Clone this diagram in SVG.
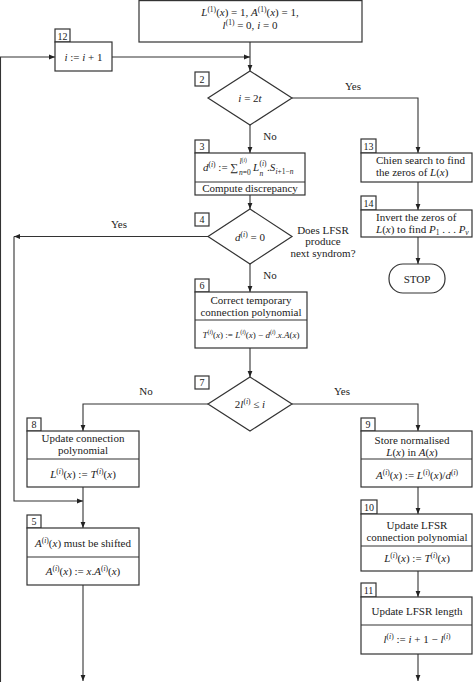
<svg xmlns="http://www.w3.org/2000/svg" width="474" height="682" viewBox="0 0 474 682">
<defs>
<marker id="ah" markerWidth="6" markerHeight="6" refX="6" refY="3" orient="auto" markerUnits="userSpaceOnUse"><path d="M0,0.6 L6,3 L0,5.4 z" fill="#222"/></marker>
</defs>
<style>
.b{fill:#fff;stroke:#333;stroke-width:1.2}
.d{fill:none;stroke:#333;stroke-width:1.2}
.c{fill:none;stroke:#333;stroke-width:1.1}
.t{font-family:"Liberation Serif","DejaVu Serif",serif;font-size:11px;fill:#222}
.m{text-anchor:middle}
.i{font-style:italic}
.s{font-size:7.5px}
.f{font-size:9px}
.n{font-family:"Liberation Serif","DejaVu Serif",serif;font-size:10px;fill:#222;text-anchor:middle}
</style>
<rect x="0" y="0" width="474" height="682" fill="#fff"/>

<g id="connectors">
<path class="c" d="M0.5,682 L0.5,57 L55,57" marker-end="url(#ah)"/>
<path class="c" d="M250,42 L250,71" marker-end="url(#ah)"/>
<path class="c" d="M112,57 L250,57" marker-end="url(#ah)"/>
<path class="c" d="M292,98 L418,98 L418,153" marker-end="url(#ah)"/>
<path class="c" d="M250,125 L250,153" marker-end="url(#ah)"/>
<path class="c" d="M418,182 L418,210" marker-end="url(#ah)"/>
<path class="c" d="M418,237 L418,264" marker-end="url(#ah)"/>
<path class="c" d="M250,195 L250,209" marker-end="url(#ah)"/>
<path class="c" d="M208,236.5 L14,236.5" marker-end="url(#ah)"/>
<path class="c" d="M14,236.5 L14,501 L83,501" marker-end="url(#ah)"/>
<path class="c" d="M250,264 L250,292" marker-end="url(#ah)"/>
<path class="c" d="M250,348 L250,377" marker-end="url(#ah)"/>
<path class="c" d="M292,404 L418,404 L418,431" marker-end="url(#ah)"/>
<path class="c" d="M208,404 L83,404 L83,431" marker-end="url(#ah)"/>
<path class="c" d="M83,487 L83,528" marker-end="url(#ah)"/>
<path class="c" d="M418,487 L418,514" marker-end="url(#ah)"/>
<path class="c" d="M418,571 L418,597" marker-end="url(#ah)"/>
<path class="c" d="M418,654 L418,681" marker-end="url(#ah)"/>
<path class="c" d="M83,585 L83,681" marker-end="url(#ah)"/>
<text class="t m" x="353" y="90">Yes</text>
<text class="t m" x="270" y="140">No</text>
<text class="t m" x="119" y="228">Yes</text>
<text class="t m" x="270" y="279">No</text>
<text class="t m" x="342" y="395">Yes</text>
<text class="t m" x="146" y="395">No</text>
</g>

<g id="n1">
<rect class="b" x="139" y="0.6" width="223" height="41.4"/>
<text class="t m" x="250" y="16"><tspan class="i">L</tspan><tspan class="s" dy="-4">(1)</tspan><tspan dy="4">(</tspan><tspan class="i">x</tspan>) = 1,  <tspan class="i">A</tspan><tspan class="s" dy="-4">(1)</tspan><tspan dy="4">(</tspan><tspan class="i">x</tspan>) = 1,</text>
<text class="t m" x="250" y="29"><tspan class="i">l</tspan><tspan class="s" dy="-4">(1)</tspan><tspan dy="4"> = 0,  </tspan><tspan class="i">i</tspan> = 0</text>
</g>

<g id="n12">
<rect class="b" x="55" y="29" width="15" height="13"/>
<text class="n" x="62.5" y="39.5">12</text>
<rect class="b" x="55" y="42" width="57" height="29"/>
<text class="t m" x="83.5" y="60.5"><tspan class="i">i</tspan> := <tspan class="i">i</tspan> + 1</text>
</g>

<g id="n2">
<rect class="b" x="195" y="72" width="14" height="14"/>
<text class="n" x="202" y="82.5">2</text>
<polygon class="d" points="250,71 292,98 250,125 208,98"/>
<text class="t m" x="250" y="102"><tspan class="i">i</tspan> = 2<tspan class="i">t</tspan></text>
</g>

<g id="n3">
<rect class="b" x="195" y="140" width="14" height="13"/>
<text class="n" x="202" y="150">3</text>
<rect class="b" x="195" y="153" width="110" height="42"/>
<line class="d" x1="195" y1="182" x2="305" y2="182"/>
<text class="t" x="203" y="171"><tspan class="i">d</tspan><tspan class="s" dy="-4">(<tspan class="i">i</tspan>)</tspan><tspan dy="4"> := ∑</tspan></text>
<text class="t s" x="239" y="175"><tspan class="i">n</tspan>=0</text>
<text class="t s" x="239.5" y="164"><tspan class="i">l</tspan><tspan font-size="5.5px" dy="-2">(<tspan class="i">i</tspan>)</tspan></text>
<text class="t i" x="253" y="171">L</text>
<text class="t s" x="259.5" y="166">(<tspan class="i">i</tspan>)</text>
<text class="t s i" x="259.5" y="175.5">n</text>
<text class="t" x="267" y="171">.<tspan class="i">S</tspan></text>
<text class="t s" x="275.5" y="174"><tspan class="i">i</tspan>+1−<tspan class="i">n</tspan></text>
<text class="t m" x="250" y="192">Compute discrepancy</text>
</g>

<g id="n13">
<rect class="b" x="361" y="139" width="15" height="14"/>
<text class="n" x="368.5" y="149.5">13</text>
<rect class="b" x="361" y="153" width="111" height="29"/>
<text class="t" x="376" y="164">Chien search to find</text>
<text class="t" x="376" y="176">the zeros of <tspan class="i">L</tspan>(<tspan class="i">x</tspan>)</text>
</g>

<g id="n14">
<rect class="b" x="361" y="196" width="15" height="14"/>
<text class="n" x="368.5" y="206.5">14</text>
<rect class="b" x="361" y="210" width="111" height="27"/>
<text class="t" x="376" y="221">Invert the zeros of</text>
<text class="t" x="376" y="233"><tspan class="i">L</tspan>(<tspan class="i">x</tspan>) to find <tspan class="i">P</tspan><tspan class="s" dy="2">1</tspan><tspan dy="-2"> . . . </tspan><tspan class="i">P</tspan><tspan class="s i" dy="2">v</tspan></text>
</g>

<g id="stop">
<rect class="b" x="389" y="264" width="56" height="29" rx="14" ry="14"/>
<text class="t m" x="417" y="283">STOP</text>
</g>

<g id="n4">
<rect class="b" x="195" y="213" width="14" height="13"/>
<text class="n" x="202" y="223">4</text>
<polygon class="d" points="250,209 292,236.5 250,264 208,236.5"/>
<text class="t m" x="250" y="240.5"><tspan class="i">d</tspan><tspan class="s" dy="-4">(<tspan class="i">i</tspan>)</tspan><tspan dy="4"> = 0</tspan></text>
<text class="t m" x="323" y="234">Does LFSR</text>
<text class="t m" x="323" y="245">produce</text>
<text class="t m" x="323" y="257">next syndrom?</text>
</g>

<g id="n6">
<rect class="b" x="195" y="279" width="14" height="13"/>
<text class="n" x="202" y="289">6</text>
<rect class="b" x="195" y="292" width="112" height="56"/>
<line class="d" x1="195" y1="320" x2="307" y2="320"/>
<text class="t m" x="251" y="304">Correct temporary</text>
<text class="t m" x="251" y="316">connection polynomial</text>
<text class="t m f" x="251" y="337.5"><tspan class="i">T</tspan><tspan font-size="6px" dy="-3.5">(<tspan class="i">i</tspan>)</tspan><tspan dy="3.5">(</tspan><tspan class="i">x</tspan>) := <tspan class="i">L</tspan><tspan font-size="6px" dy="-3.5">(<tspan class="i">i</tspan>)</tspan><tspan dy="3.5">(</tspan><tspan class="i">x</tspan>) − <tspan class="i">d</tspan><tspan font-size="6px" dy="-3.5">(<tspan class="i">i</tspan>)</tspan><tspan dy="3.5">.</tspan><tspan class="i">x</tspan>.<tspan class="i">A</tspan>(<tspan class="i">x</tspan>)</text>
</g>

<g id="n7">
<rect class="b" x="195" y="376" width="14" height="13"/>
<text class="n" x="202" y="386">7</text>
<polygon class="d" points="250,377 292,404 250,431 208,404"/>
<text class="t m" x="250" y="408">2<tspan class="i">l</tspan><tspan class="s" dy="-4">(<tspan class="i">i</tspan>)</tspan><tspan dy="4"> ≤ </tspan><tspan class="i">i</tspan></text>
</g>

<g id="n8">
<rect class="b" x="27" y="418" width="14" height="13"/>
<text class="n" x="34" y="428">8</text>
<rect class="b" x="27" y="431" width="112" height="56"/>
<line class="d" x1="27" y1="459" x2="139" y2="459"/>
<text class="t m" x="83" y="442">Update connection</text>
<text class="t m" x="83" y="454">polynomial</text>
<text class="t m" x="83" y="478"><tspan class="i">L</tspan><tspan class="s" dy="-4">(<tspan class="i">i</tspan>)</tspan><tspan dy="4">(</tspan><tspan class="i">x</tspan>) := <tspan class="i">T</tspan><tspan class="s" dy="-4">(<tspan class="i">i</tspan>)</tspan><tspan dy="4">(</tspan><tspan class="i">x</tspan>)</text>
</g>

<g id="n5">
<rect class="b" x="27" y="515" width="14" height="13"/>
<text class="n" x="34" y="525">5</text>
<rect class="b" x="27" y="528" width="112" height="57"/>
<line class="d" x1="27" y1="557" x2="139" y2="557"/>
<text class="t m" x="83" y="547"><tspan class="i">A</tspan><tspan class="s" dy="-4">(<tspan class="i">i</tspan>)</tspan><tspan dy="4">(</tspan><tspan class="i">x</tspan>) must be shifted</text>
<text class="t m" x="83" y="575"><tspan class="i">A</tspan><tspan class="s" dy="-4">(<tspan class="i">i</tspan>)</tspan><tspan dy="4">(</tspan><tspan class="i">x</tspan>) := <tspan class="i">x</tspan>.<tspan class="i">A</tspan><tspan class="s" dy="-4">(<tspan class="i">i</tspan>)</tspan><tspan dy="4">(</tspan><tspan class="i">x</tspan>)</text>
</g>

<g id="n9">
<rect class="b" x="361" y="418" width="14" height="13"/>
<text class="n" x="368" y="428">9</text>
<rect class="b" x="361" y="431" width="111" height="56"/>
<line class="d" x1="361" y1="459" x2="472" y2="459"/>
<text class="t m" x="412" y="444">Store normalised</text>
<text class="t m" x="412" y="456"><tspan class="i">L</tspan>(<tspan class="i">x</tspan>) in <tspan class="i">A</tspan>(<tspan class="i">x</tspan>)</text>
<text class="t m" x="417" y="479"><tspan class="i">A</tspan><tspan class="s" dy="-4">(<tspan class="i">i</tspan>)</tspan><tspan dy="4">(</tspan><tspan class="i">x</tspan>) := <tspan class="i">L</tspan><tspan class="s" dy="-4">(<tspan class="i">i</tspan>)</tspan><tspan dy="4">(</tspan><tspan class="i">x</tspan>)/<tspan class="i">d</tspan><tspan class="s" dy="-4">(<tspan class="i">i</tspan>)</tspan></text>
</g>

<g id="n10">
<rect class="b" x="361" y="500" width="16" height="14"/>
<text class="n" x="369" y="510.5">10</text>
<rect class="b" x="361" y="514" width="111" height="57"/>
<line class="d" x1="361" y1="546" x2="472" y2="546"/>
<text class="t m" x="417" y="529">Update LFSR</text>
<text class="t m" x="417" y="541">connection polynomial</text>
<text class="t m" x="417" y="562"><tspan class="i">L</tspan><tspan class="s" dy="-4">(<tspan class="i">i</tspan>)</tspan><tspan dy="4">(</tspan><tspan class="i">x</tspan>) := <tspan class="i">T</tspan><tspan class="s" dy="-4">(<tspan class="i">i</tspan>)</tspan><tspan dy="4">(</tspan><tspan class="i">x</tspan>)</text>
</g>

<g id="n11">
<rect class="b" x="361" y="583" width="15" height="14"/>
<text class="n" x="368.5" y="593.5">11</text>
<rect class="b" x="361" y="597" width="111" height="57"/>
<line class="d" x1="361" y1="625" x2="472" y2="625"/>
<text class="t m" x="417" y="615">Update LFSR length</text>
<text class="t m" x="417" y="643"><tspan class="i">l</tspan><tspan class="s" dy="-4">(<tspan class="i">i</tspan>)</tspan><tspan dy="4"> := </tspan><tspan class="i">i</tspan> + 1 − <tspan class="i">l</tspan><tspan class="s" dy="-4">(<tspan class="i">i</tspan>)</tspan></text>
</g>
</svg>
